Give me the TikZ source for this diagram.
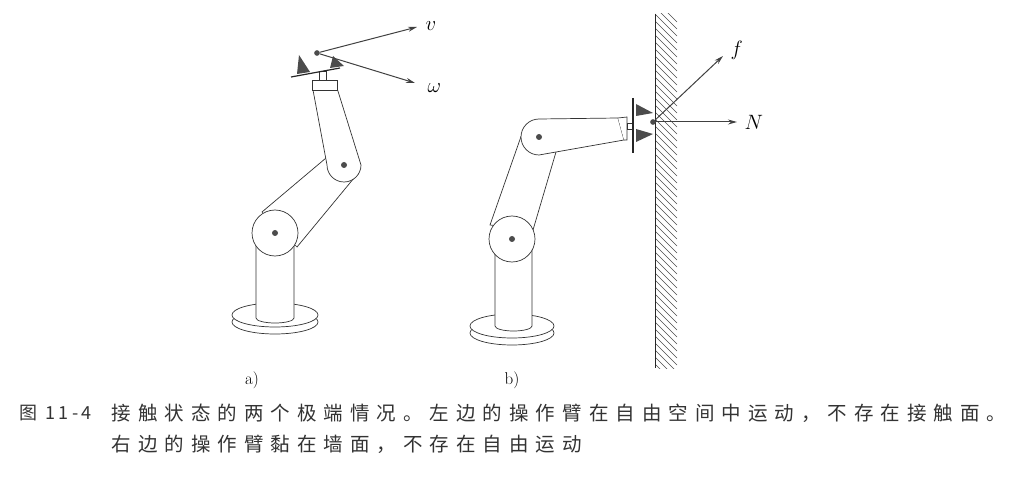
\documentclass[tikz,border=0pt]{standalone}
\usepackage{fontspec}
\newfontfamily\cjk[LetterSpace=36]{Noto Sans CJK SC}
\newfontfamily\cjkn[LetterSpace=20]{Noto Sans CJK SC}
\usetikzlibrary{arrows.meta}
\begin{document}
\begin{tikzpicture}[x=1pt,y=-1pt,line width=0.7pt,
  part/.style={draw=black!80,fill=white},
  vec/.style={draw=black!75,line width=1pt,-{Stealth[length=9pt,width=5pt]}},
  tri/.style={fill=black!70,draw=none},
  lab/.style={font=\fontsize{20}{20}\selectfont}]
\useasboundingbox (0,0) rectangle (1020,489);
% ===== left robot =====
\draw[part] (275,322) ellipse [x radius=43,y radius=12];
\draw[part] (275,315) ellipse [x radius=43,y radius=12];
\draw[part] (256,235) -- (256,318) arc[start angle=180,end angle=0,x radius=19,y radius=5] -- (294,235);
\draw[part] (262,212) -- (326,158) -- (359,172) -- (297,247) -- cycle;
\draw[part] (275,233) circle (23);
\fill[black!70] (275,233) circle (3);
\draw[part] (313,90) -- (327,165) arc[start angle=180,end angle=0,radius=17] -- (337,88) -- cycle;
\fill[black!70] (344,165) circle (3);
\draw[part] (312,80) rectangle (337,90);
\draw[part] (319,71) rectangle (326,80);
\draw[black!85,line width=1.2pt] (291,77) -- (340,68);
\fill[tri] (299,55) -- (297,74) -- (310,72) -- cycle;
\fill[tri] (333,56) -- (330,68) -- (344,66) -- cycle;
\node[circle,fill=black!70,inner sep=2pt] (pa) at (317,53) {};
\coordinate (va) at (417,27);
\coordinate (wa) at (415,83);
\draw[vec] (pa) -- (va);
\draw[vec] (pa) -- (wa);
\node[lab,anchor=west] at (422,26) {$v$};
\node[lab,anchor=west] at (424,88) {$\omega$};
% ===== right robot =====
\draw[part] (512,333) ellipse [x radius=42,y radius=12];
\draw[part] (512,326) ellipse [x radius=42,y radius=12];
\draw[part] (495,240) -- (495,326) arc[start angle=180,end angle=0,x radius=18.5,y radius=5] -- (532,240);
\draw[part] (490,225) -- (524,128) -- (556,152) -- (533,230) -- cycle;
\draw[part] (512,239) circle (23);
\fill[black!70] (512,239) circle (3);
\draw[part] (539,119) arc[start angle=-90,end angle=-270,radius=18] -- (624,140) -- (618,118) -- cycle;
\fill[black!70] (539,137) circle (3);
\draw[part] (618,118) -- (627,117) -- (627,140) -- (624,140);
\draw[part] (627,123) rectangle (633,129);
\draw[black!85,line width=1.2pt] (633,98) -- (633,153);
\fill[tri] (636,104) -- (636,116) -- (653,113) -- cycle;
\fill[tri] (636,129) -- (636,142) -- (653,134) -- cycle;
% wall
\begin{scope}
\clip (655,14) rectangle (677,368);
\foreach \y in {0,7,...,370} \draw[black!70,line width=0.6pt] (655,\y) -- (677,\y+22);
\end{scope}
\draw[black!85,line width=1pt] (655,14) -- (655,368);
\node[circle,fill=black!70,inner sep=2pt] (pb) at (653,122) {};
\coordinate (nb) at (737,122);
\coordinate (fb) at (723,56);
\draw[vec] (pb) -- (nb);
\draw[vec] (pb) -- (fb);
\node[lab,anchor=west] at (741,122) {$N$};
\node[lab,anchor=west] at (727,50) {$f$};
% labels
\node[font=\fontsize{17}{17}\selectfont] (la) at (252,380) {a)};
\node[font=\fontsize{17}{17}\selectfont] (lb) at (512,380) {b)};
\node[anchor=west,font=\fontsize{18}{18}\selectfont\cjkn,text=black!80] (fig) at (16,413) {图 11-\,4};
\node[anchor=west,font=\fontsize{19.5}{19.5}\selectfont\cjk,text=black!80] (c1) at (108,413) {接触状态的两个极端情况。左边的操作臂在自由空间中运动，不存在接触面。};
\node[anchor=west,font=\fontsize{19.5}{19.5}\selectfont\cjk,text=black!80] (c2) at (108,444) {右边的操作臂黏在墙面，不存在自由运动};
\end{tikzpicture}
\end{document}
